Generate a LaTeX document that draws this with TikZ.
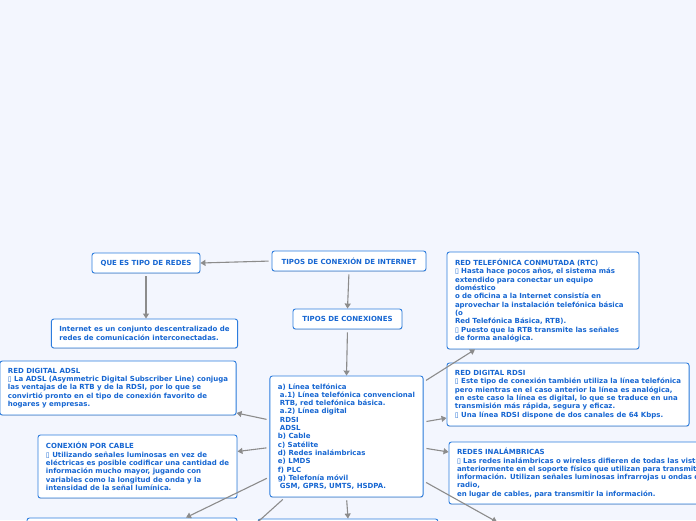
\documentclass[tikz,border=0pt]{standalone}
\usepackage{fontspec}
\setmainfont{DejaVu Sans}
\usepackage{tikz}
\usetikzlibrary{positioning}
\usetikzlibrary{arrows.meta,shadows}

\definecolor{fondo}{RGB}{243,246,254}
\definecolor{azulborde}{RGB}{45,125,222}
\definecolor{azultexto}{RGB}{22,102,210}
\definecolor{gris}{RGB}{140,140,140}
\newcommand{\cuadro}{▯}
\newcommand{\sangria}{\hspace*{2pt}}

\begin{document}
\begin{tikzpicture}[x=1pt, y=-1pt,
    caja/.style={draw=azulborde, fill=white, line width=0.9pt, rounded corners=2.5pt,
      text=azultexto, font=\bfseries\fontsize{7}{8.3}\selectfont,
      drop shadow={shadow xshift=0.3pt, shadow yshift=-0.9pt, opacity=0.25}},
    titulo/.style={caja, align=center, minimum height=20pt},
    texto/.style={caja, align=left, inner xsep=8pt, inner ysep=4pt},
    flecha/.style={->, draw=gris, line width=1.1pt, shorten <=3pt},
    >={Triangle[length=5pt, width=6pt]}]
  \useasboundingbox (0,0) rectangle (696,520);
  \fill[fondo] (0,0) rectangle (696,520);
  \clip (0,0) rectangle (696,520);

  % Nodos
  \node[titulo, minimum width=154pt] (tci) at (349,261) {TIPOS DE CONEXIÓN DE INTERNET};
  \node[titulo, minimum width=108pt] (que) at (146,263) {QUE ES TIPO DE REDES};
  \node[titulo, minimum width=109pt] (conex) at (347.5,319) {TIPOS DE CONEXIONES};
  \node[texto, minimum width=185pt, minimum height=29pt] (internet) at (144.5,333.5)
    {Internet es un conjunto descentralizado de\\redes de comunicación interconectadas.};
  \node[texto, minimum width=153pt, minimum height=121pt] (lista) at (346.5,436.5)
    {a) Línea telfónica\\
     \sangria a.1) Línea telefónica convencional\\
     \sangria RTB, red telefónica básica.\\
     \sangria a.2) Línea digital\\
     \sangria RDSI\\
     \sangria ADSL\\
     b) Cable\\
     c) Satélite\\
     d) Redes inalámbricas\\
     e) LMDS\\
     f) PLC\\
     g) Telefonía móvil\\
     \sangria GSM, GPRS, UMTS, HSDPA.};
  \node[texto, text width=176pt, minimum height=97pt] (rtc) at (543,300.5)
    {RED TELEFÓNICA CONMUTADA (RTC)\\
     \cuadro{} Hasta hace pocos años, el sistema más\\
     extendido para conectar un equipo\\
     doméstico\\
     o de oficina a la Internet consistía en\\
     aprovechar la instalación telefónica básica\\
     (o\\
     Red Telefónica Básica, RTB).\\
     \cuadro{} Puesto que la RTB transmite las señales\\
     de forma analógica.};
  \node[texto, minimum width=240pt, minimum height=63pt] (rdsi) at (568,394.5)
    {RED DIGITAL RDSI\\
     \cuadro{} Este tipo de conexión también utiliza la línea telefónica\\
     pero mientras en el caso anterior la línea es analógica,\\
     en este caso la línea es digital, lo que se traduce en una\\
     transmisión más rápida, segura y eficaz.\\
     \cuadro{} Una línea RDSI dispone de dos canales de 64 Kbps.};
  \node[texto, text width=290pt, minimum height=62pt] (inal) at (602,473)
    {REDES INALÁMBRICAS\\
     \cuadro{} Las redes inalámbricas o wireless difieren de todas las vistas\\
     anteriormente en el soporte físico que utilizan para transmitir la\\
     información. Utilizan señales luminosas infrarrojas u ondas de\\
     radio,\\
     en lugar de cables, para transmitir la información.};
  \node[texto, minimum width=236pt, minimum height=54pt] (adsl) at (118,388)
    {RED DIGITAL ADSL\\
     \cuadro{} La ADSL (Asymmetric Digital Subscriber Line) conjuga\\
     las ventajas de la RTB y de la RDSI, por lo que se\\
     convirtió pronto en el tipo de conexión favorito de\\
     hogares y empresas.};
  \node[texto, minimum width=197pt, minimum height=63pt] (cable) at (137.5,466.5)
    {CONEXIÓN POR CABLE\\
     \cuadro{} Utilizando señales luminosas en vez de\\
     eléctricas es posible codificar una cantidad de\\
     información mucho mayor, jugando con\\
     variables como la longitud de onda y la\\
     intensidad de la señal lumínica.};
  \node[caja, minimum width=210pt, minimum height=60pt] (cajaizq) at (132,548) {};
  \node[caja, minimum width=180pt, minimum height=60pt] (cajamed) at (348,549) {};
  \coordinate (salidaizq) at (240,538);
  \coordinate (salidader) at (497,522);

  % Aristas
  \draw[flecha] (tci.west) -- (que.east);
  \draw[flecha] (tci.south) -- (conex.north);
  \draw[flecha] (que.south) -- (que.south |- internet.north);
  \draw[flecha] (conex.south) -- (lista.north);
  \draw[flecha] ([yshift=54.5pt]lista.east) -- ([xshift=-68pt]rtc.south);
  \draw[flecha] ([yshift=14.5pt]lista.east) -- ([yshift=-23.5pt]rdsi.west);
  \draw[flecha] ([yshift=-11.5pt]lista.east) -- ([yshift=21pt]inal.west);
  \draw[flecha] ([yshift=-44.5pt]lista.east) -- (salidader);
  \draw[flecha] ([yshift=16.5pt]lista.west) -- ([yshift=-25pt]adsl.east);
  \draw[flecha] ([yshift=-11pt]lista.west) -- ([yshift=15pt]cable.east);
  \draw[flecha] ([yshift=-40.5pt]lista.west) -- ([xshift=54pt]cajaizq.north);
  \draw[flecha] ([xshift=-61.5pt]lista.south) -- (salidaizq);
  \draw[flecha] (lista.south) -- (cajamed.north);
\end{tikzpicture}
\end{document}
